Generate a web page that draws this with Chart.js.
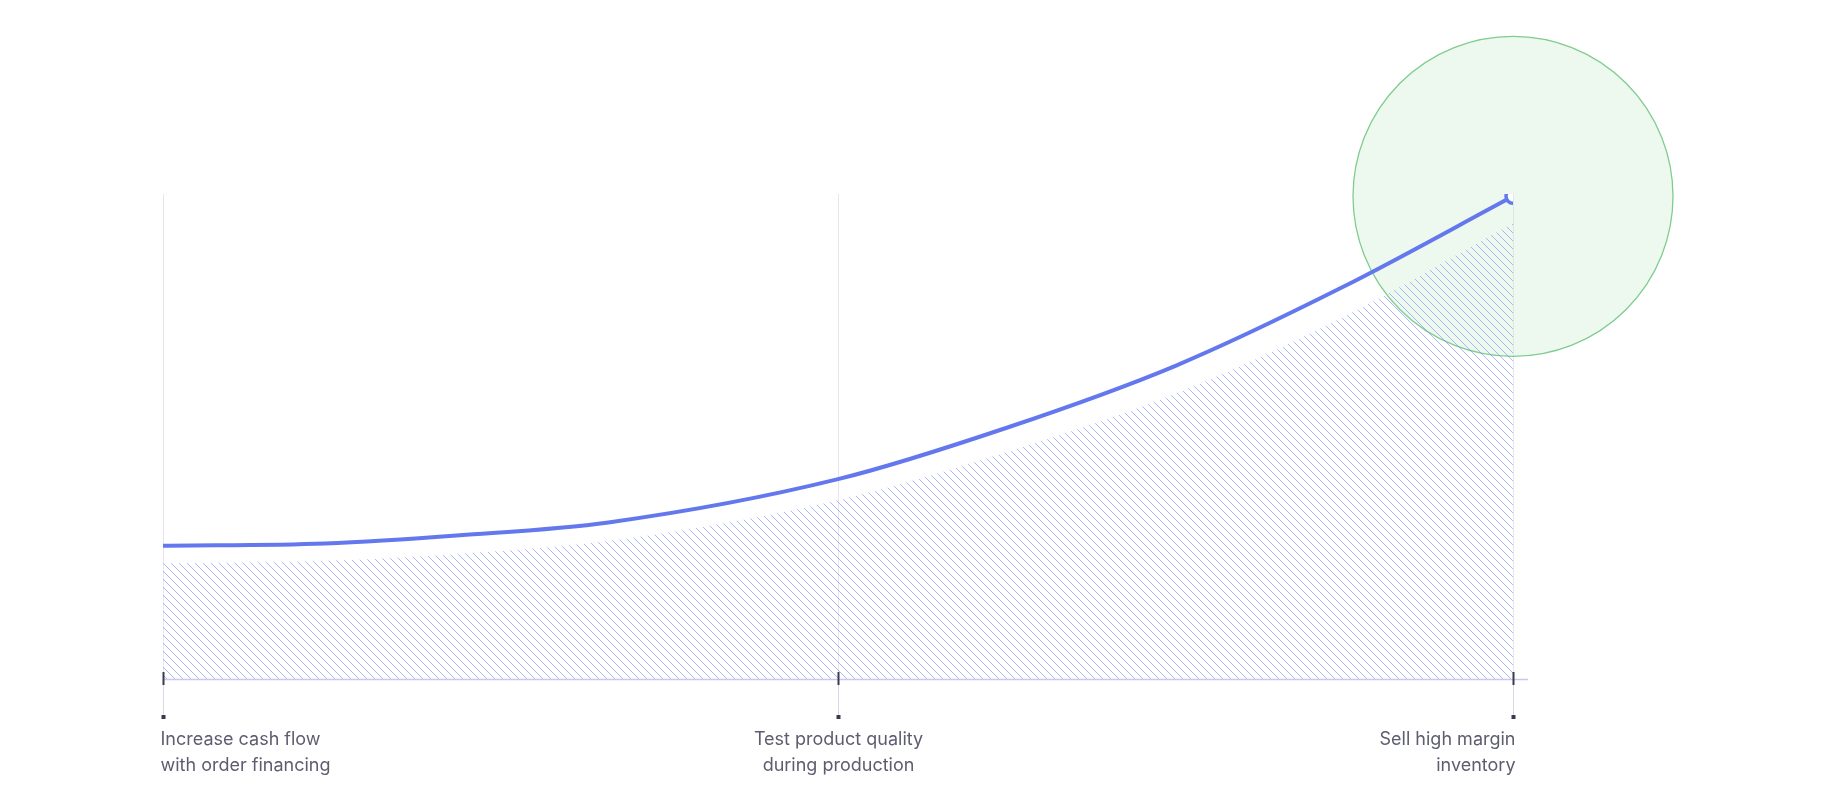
<!DOCTYPE html>
<html><head><meta charset="utf-8">
<script src="https://cdn.jsdelivr.net/npm/chart.js@4"></script>
<style>html,body{margin:0;padding:0;background:#fff}#w{width:1836px;height:789px}</style>
</head><body><div id="w"><canvas id="c"></canvas></div>
<script>
const xPositions = [0, 0.12, 0.22, 0.33, 0.5, 0.625, 0.75, 0.875, 1];
const lineValues = [114, 116, 123, 134, 171, 215, 268, 336, 413];
const fillValues = [99, 101, 107, 118, 153, 194, 244, 310, 390];
const categories = [["Increase cash flow","with order financing"],["Test product quality","during production"],["Sell high margin","inventory"]];
const categoryX = [0, 0.5, 1];

function hatch(){
  const c=document.createElement('canvas');c.width=8;c.height=8;const g=c.getContext('2d');
  g.strokeStyle='rgba(120,135,240,0.6)';g.lineWidth=1;
  g.beginPath();g.moveTo(-1,-1);g.lineTo(9,9);g.moveTo(-1,7);g.lineTo(1,9);g.moveTo(7,-1);g.lineTo(9,1);g.stroke();
  return g.createPattern(c,'repeat');
}
const deco={id:'deco',
 beforeDatasetsDraw(ch){
  const {ctx,chartArea:a,scales:{x,y}}=ch;ctx.save();
  ctx.strokeStyle='#e6e6ee';ctx.lineWidth=1;
  categoryX.forEach(v=>{const px=Math.round(x.getPixelForValue(v))+0.5;ctx.beginPath();ctx.moveTo(px,a.top);ctx.lineTo(px,a.bottom);ctx.stroke();});
  const cx=x.getPixelForValue(1),cy=y.getPixelForValue(lineValues[lineValues.length-1]);
  ctx.beginPath();ctx.arc(cx,cy,160,0,Math.PI*2);ctx.fillStyle='rgba(200,232,206,0.32)';ctx.fill();
  ctx.strokeStyle='#80cc8e';ctx.lineWidth=1.3;ctx.stroke();
  ctx.restore();
 },
 afterDraw(ch){
  const {ctx,chartArea:a,scales:{x}}=ch;ctx.save();
  ctx.strokeStyle='#c4c8f2';ctx.lineWidth=1.3;ctx.beginPath();ctx.moveTo(a.left,a.bottom+0.5);ctx.lineTo(a.right+15,a.bottom+0.5);ctx.stroke();
  ctx.font='400 18px Inter, "Open Sans", sans-serif';ctx.fillStyle='#5d5d70';
  categoryX.forEach((v,i)=>{const px=Math.round(x.getPixelForValue(v))+0.5;
    ctx.strokeStyle='#d8d8e6';ctx.lineWidth=1;ctx.beginPath();ctx.moveTo(px,a.bottom);ctx.lineTo(px,a.bottom+36);ctx.stroke();
    ctx.strokeStyle='#3a3a50';ctx.lineWidth=2;ctx.beginPath();ctx.moveTo(px,a.bottom-7);ctx.lineTo(px,a.bottom+6);ctx.stroke();
    ctx.fillStyle='#3a3a50';ctx.fillRect(px-2,a.bottom+36,4,4);
    ctx.fillStyle='#5d5d70';ctx.textAlign=i===0?'left':(i===2?'right':'center');ctx.textBaseline='middle';
    const tx=i===0?px-3:(i===2?px+2:px);
    categories[i].forEach((t,j)=>ctx.fillText(t,tx,a.bottom+61+j*26));
  });
  ctx.restore();
 }};
new Chart(document.getElementById('c'),{type:'line',
 data:{datasets:[
  {data:xPositions.map((v,i)=>({x:v,y:lineValues[i]})),borderColor:'#6478ee',borderWidth:4,cubicInterpolationMode:'monotone',fill:false,
   pointRadius:xPositions.map((v,i)=>i===xPositions.length-1?7:0),pointBackgroundColor:'#fff',pointBorderColor:'#6478ee',pointBorderWidth:3.5,order:0},
  {data:xPositions.map((v,i)=>({x:v,y:fillValues[i]})),borderWidth:0,borderColor:'transparent',backgroundColor:hatch(),fill:'origin',cubicInterpolationMode:'monotone',pointRadius:0,order:1}
 ]},
 options:{responsive:true,maintainAspectRatio:false,animation:false,
  layout:{padding:{left:163,right:323,top:194,bottom:110}},
  plugins:{legend:{display:false},tooltip:{enabled:false}},
  scales:{x:{type:'linear',min:0,max:1,display:false},y:{min:0,max:415,display:false}}},
 plugins:[deco]});
</script></body></html>
